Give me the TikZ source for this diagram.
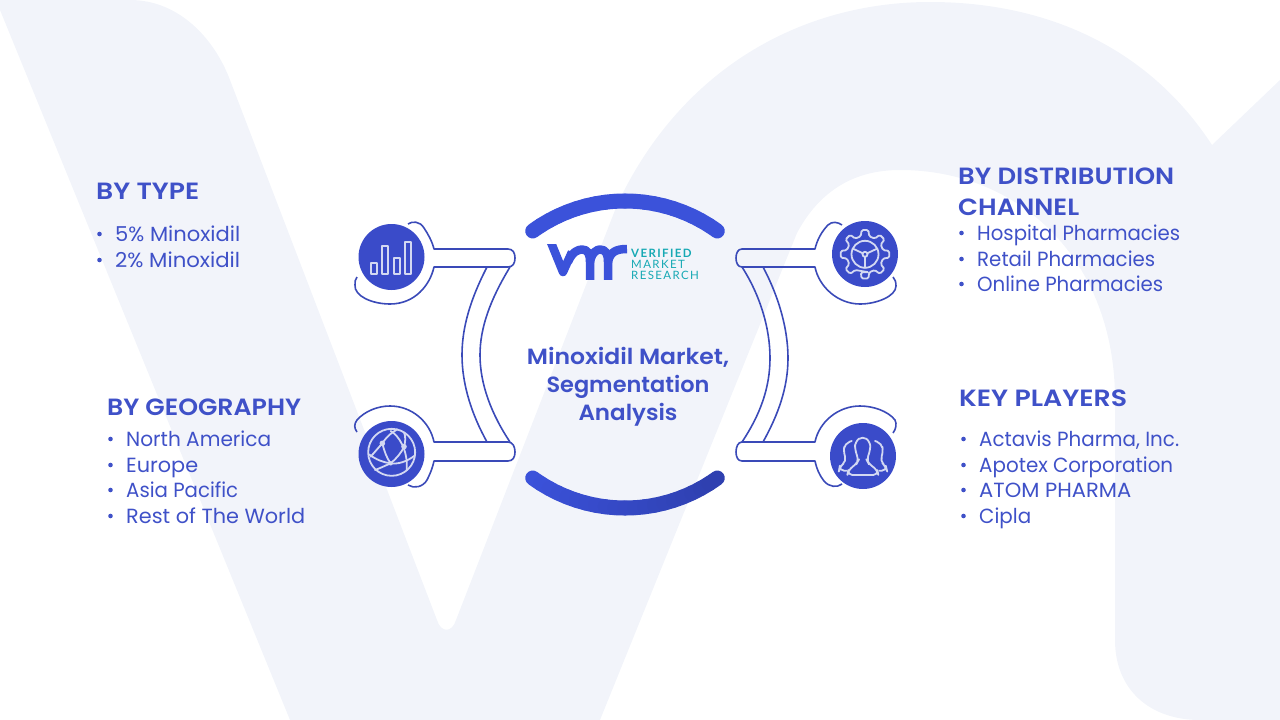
\documentclass[tikz,border=0pt]{standalone}
\usepackage{graphicx}
\usepackage{fontspec}
\setmainfont{Poppins}
\newfontfamily\semifont{Poppins SemiBold}
\newfontfamily\logofont[LetterSpace=12]{Lato}
\usetikzlibrary{calc}
\definecolor{bgl}{HTML}{F2F4FA}
\definecolor{ink}{HTML}{3F51C8}
\definecolor{navy}{HTML}{3A4BC9}
\definecolor{arcA}{HTML}{3B52DA}
\definecolor{arcB}{HTML}{2E3FAE}
\definecolor{teal}{HTML}{17A9B4}
\definecolor{iconc}{HTML}{D3D8F2}
\definecolor{lineink}{HTML}{3A4AB8}
\tikzset{
  heading/.style={anchor=base west,inner sep=0,text=ink,font=\fontsize{23.5}{23.5}\selectfont\semifont},
  item/.style={anchor=base west,inner sep=0,text=ink,font=\fontsize{20.5}{20.5}\selectfont},
  bulletdot/.style={circle,fill=ink,inner sep=0,minimum size=4.6pt},
  title/.style={anchor=base,inner sep=0,text=ink,font=\fontsize{22}{22}\selectfont\semifont},
  outline/.style={draw=lineink,line width=1.6pt,line join=round},
  disc/.style={circle,fill=navy,inner sep=0,minimum size=66pt},
  icon/.style={draw=iconc,line width=1.8pt,line join=round,line cap=round},
  logotext/.style={anchor=base west,inner sep=0,text=teal,font=\fontsize{11.5}{11.5}\selectfont\logofont},
  logostroke/.style={draw=arcA,line width=8.5pt,line join=round},
}
\newcommand{\fitw}[2]{\resizebox{#1pt}{\height}{#2}}
\newcommand{\entry}[5]{%
  \node[bulletdot] (#1b) at (#2-15.5,#3-7) {};
  \node[item] (#1) at (#2,#3) {\fitw{#5}{#4}};}
\begin{document}
\begin{tikzpicture}[x=1pt,y=-1pt]
\useasboundingbox (0,0) rectangle (1280,720);
% background monogram
\fill[bgl] (0,10) -- (0,0) -- (130,0) .. controls (180,0) and (215,40) .. (230,80)
  -- (437,620) .. controls (441,633) and (452,633) .. (456,620)
  -- (617,205) .. controls (680,70) and (800,2) .. (930,2)
  .. controls (1050,2) and (1150,50) .. (1212,145) -- (1280,80) -- (1280,720) -- (1200,720)
  .. controls (1150,720) and (1115,690) .. (1115,640) -- (1115,400)
  .. controls (1115,260) and (1020,170) .. (900,170)
  .. controls (855,170) and (820,190) .. (797,233) -- (600,720) -- (290,720) -- cycle;
% central arcs
\foreach \i in {0,...,19}{
  \pgfmathsetmacro\aa{-36+\i*72/20}
  \pgfmathsetmacro\ab{\aa+72/20}
  \draw[arcA,line width=15pt,line cap=round] plot[domain=\aa:\ab,samples=4] ({625+157*sin(\x)},{358-157*cos(\x)});
}
\foreach \i in {0,...,19}{
  \pgfmathsetmacro\aa{-36+\i*72/20}
  \pgfmathsetmacro\ab{\aa+72/20}
  \pgfmathsetmacro\pc{100-\i*5}
  \draw[arcA!\pc!arcB,line width=15pt,line cap=round] plot[domain=\aa:\ab,samples=4] ({625+157*sin(\x)},{351+157*cos(\x)});
}
% connectors: top left
\draw[outline] (408,224) .. controls (412,221) and (420,221) .. (424,228)
  .. controls (428,234) and (432,241) .. (434,249) -- (508,249)
  .. controls (513,249) and (515,253) .. (515,258) .. controls (515,263) and (513,267) .. (508,267) -- (434,267)
  .. controls (430,285) and (415,304) .. (390,304) .. controls (372,304) and (354,296) .. (355,285)
  .. controls (355,282) and (355,279) .. (357,277);
\draw[outline] (487,267) .. controls (470,300) and (462,328) .. (462,355) .. controls (462,385) and (472,415) .. (487,442);
\draw[outline] (510,267) .. controls (490,300) and (480,328) .. (480,355) .. controls (480,385) and (492,415) .. (510,442);
% bottom left
\draw[outline] (357,432) .. controls (354,428) and (354,424) .. (357,420)
  .. controls (365,411) and (378,406) .. (390,406) .. controls (412,406) and (430,422) .. (434,442) -- (508,442)
  .. controls (513,442) and (515,447) .. (515,452) .. controls (515,457) and (513,461) .. (508,461) -- (434,461)
  .. controls (432,470) and (429,476) .. (427,480) .. controls (423,487) and (414,489) .. (408,485);
% top right
\draw[outline] (842,225) .. controls (838,222) and (832,221) .. (828,225)
  .. controls (822,231) and (817,240) .. (815,249) -- (742,249)
  .. controls (738,249) and (736,253) .. (736,258) .. controls (736,263) and (738,267) .. (742,267) -- (815,267)
  .. controls (819,287) and (838,304) .. (860,304) .. controls (877,304) and (896,296) .. (896,286)
  .. controls (896,282) and (895,279) .. (893,277);
\draw[outline] (742,267) .. controls (760,295) and (770,328) .. (770,358) .. controls (770,388) and (760,415) .. (742,442);
\draw[outline] (763,267) .. controls (778,295) and (788,328) .. (788,358) .. controls (788,388) and (778,415) .. (763,442);
% bottom right
\draw[outline] (893,433) .. controls (896,429) and (897,424) .. (895,420)
  .. controls (888,411) and (873,406) .. (860,406) .. controls (838,406) and (819,422) .. (815,442) -- (742,442)
  .. controls (738,442) and (736,447) .. (736,452) .. controls (736,457) and (738,461) .. (742,461) -- (815,461)
  .. controls (817,470) and (820,476) .. (824,481) .. controls (829,487) and (837,488) .. (842,484);
% discs
\node[disc] (dTL) at (391.5,257) {};
\node[disc] (dTR) at (865,254) {};
\node[disc] (dBL) at (391.5,454) {};
\node[disc] (dBR) at (863,456) {};
% chart icon
\draw[icon] (371,263) rectangle (377,274);
\draw[icon] (382,246) rectangle (388,274);
\draw[icon] (394,258) rectangle (400,274);
\draw[icon] (405,242) rectangle (411,274);
% globe icon
\begin{scope}[shift={(350,415)},x=.3333pt,y=-.3333pt]
  \draw[icon] (125,112) circle (23.5pt);
  \draw[icon] (97,85) .. controls (110,65) and (125,52) .. (142,43);
  \draw[icon] (97,85) -- (62,125);
  \draw[icon] (97,85) .. controls (102,105) and (110,130) .. (122,145);
  \draw[icon] (122,145) .. controls (140,130) and (155,112) .. (162,95);
  \draw[icon] (122,48) .. controls (145,60) and (175,105) .. (170,165);
  \draw[icon] (57,118) .. controls (80,135) and (100,142) .. (122,145) .. controls (145,148) and (170,140) .. (194,122);
  \draw[icon] (75,165) .. controls (90,160) and (105,152) .. (122,145);
  \draw[icon] (162,52) .. controls (168,65) and (166,82) .. (162,95);
  \fill[iconc] (97,85) circle (2.8pt) (162,95) circle (2.8pt) (122,145) circle (2.2pt);
\end{scope}
% gear icon
\begin{scope}[shift={(865,254.3)}]
  \draw[icon,rounded corners=1.5pt] (90-13:18.5)
    \foreach \a in {90,45,0,-45,-90,-135,-180,-225}{ -- (\a+13:18.5) -- (\a+8:24.5) -- (\a-8:24.5) -- (\a-13:18.5) } -- cycle;
  \draw[icon] (0,0) circle (13.5);
  \draw[icon] (0,0) circle (2.5);
  \draw[icon] (90:2.5) -- (90:13.5);
  \draw[icon] (-25:2.5) -- (-25:13.5);
  \draw[icon] (-155:2.5) -- (-155:13.5);
\end{scope}
% people icon
\begin{scope}[shift={(825,415)},x=.3333pt,y=-.3333pt]
  \draw[icon,rounded corners=5pt] (67,180) -- (70,165) -- (95,146) -- (101,135) -- (90,105) -- (90,80) -- (113,63) -- (136,80) -- (136,105) -- (125,135) -- (131,146) -- (157,165) -- (160,180) -- cycle;
  \draw[icon,rounded corners=5pt] (80,78) -- (60,85) -- (55,110) -- (65,138) -- (44,155) -- (42,167) -- (65,167);
  \draw[icon,rounded corners=5pt] (150,78) -- (170,85) -- (175,110) -- (165,138) -- (183,155) -- (186,167) -- (163,167);
\end{scope}
% logo
\begin{scope}
\clip (545,244) rectangle (627,279);
\draw[logostroke] (550,240) -- (563,272) -- (572,252);
\draw[logostroke] (568,262) .. controls (572,252) and (578,249.5) .. (582,249.5) .. controls (588,249.5) and (590,254) .. (590,262) -- (590,285);
\draw[logostroke] (590,262) .. controls (592,252) and (597,249.5) .. (600,249.5) .. controls (606,249.5) and (608,254) .. (608,262) -- (608,285);
\draw[logostroke] (608,262) .. controls (610,252) and (616,249) .. (627,249);
\end{scope}
\node[logotext] (lg1) at (631,257) {\textbf{VERIFIED}};
\node[logotext] (lg2) at (631,268) {MARKET};
\node[logotext] (lg3) at (631,279) {RESEARCH};
% title
\node[title] (t1) at (628,364) {\fitw{202}{Minoxidil Market,}};
\node[title] (t2) at (628,392) {\fitw{163}{Segmentation}};
\node[title] (t3) at (628,420) {\fitw{99}{Analysis}};
% lists
\node[heading] (h1) at (96,199) {\fitw{103}{BY TYPE}};
\entry{a1}{115}{241}{5\% Minoxidil}{125}
\entry{a2}{115}{267}{2\% Minoxidil}{125}
\node[heading] (h2) at (107,415) {\fitw{194}{BY GEOGRAPHY}};
\entry{b1}{126}{446}{North America}{145}
\entry{b2}{126}{472}{Europe}{72}
\entry{b3}{126}{497}{Asia Pacific}{112}
\entry{b4}{126}{523}{Rest of The World}{179}
\node[heading] (h3) at (958,184) {\fitw{216}{BY DISTRIBUTION}};
\node[heading] (h3b) at (958,215) {\fitw{121}{CHANNEL}};
\entry{c1}{977}{240}{Hospital Pharmacies}{203}
\entry{c2}{977}{266}{Retail Pharmacies}{178}
\entry{c3}{977}{291}{Online Pharmacies}{186}
\node[heading] (h4) at (959,406) {\fitw{168}{KEY PLAYERS}};
\entry{d1}{979}{446}{Actavis Pharma, Inc.}{200}
\entry{d2}{979}{472}{Apotex Corporation}{194}
\entry{d3}{979}{497}{ATOM PHARMA}{152}
\entry{d4}{979}{523}{Cipla}{52}
\end{tikzpicture}
\end{document}
